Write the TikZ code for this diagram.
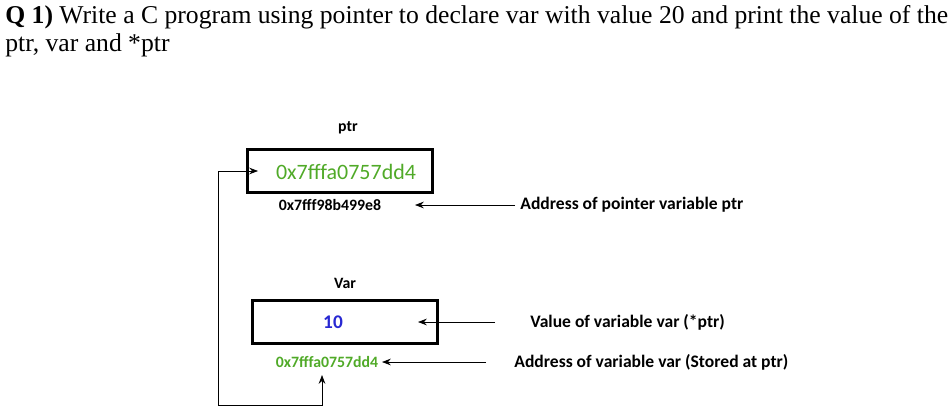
\documentclass[tikz,border=0pt]{standalone}
\usepackage{fontspec}
\setmainfont{Liberation Serif}
\newfontfamily\diagfont{Carlito}
\usetikzlibrary{positioning,arrows.meta}
\definecolor{addrgreen}{RGB}{80,170,40}
\definecolor{valblue}{RGB}{40,40,210}
\tikzset{
  membox/.style={draw, line width=2pt, minimum width=3.7cm, minimum height=0.86cm},
  lbl/.style={font=\diagfont\bfseries\fontsize{9}{10}\selectfont, inner sep=1pt},
  note/.style={font=\diagfont\bfseries\fontsize{10}{11}\selectfont, anchor=west, inner sep=0pt},
  ptrarrow/.style={-{Stealth[length=5pt]}, thin},
}
\begin{document}
\begin{tikzpicture}[x=0.02cm,y=-0.02cm]
  \useasboundingbox (0,0) rectangle (952,412);
  % question
  \node[anchor=north west, align=left, inner sep=0pt, font=\fontsize{14.6}{16}\selectfont] (q) at (5,5)
    {\textbf{Q 1)} Write a C program using pointer to declare var with value 20 and print the value of the\\ptr, var and *ptr};

  % pointer cell
  \node[lbl] (ptrname) at (348,128) {ptr};
  \node[membox] (ptrbox) at (340,171) {};
  \node[font=\diagfont\fontsize{12.5}{14}\selectfont, text=addrgreen] (ptrval) at (346,172) {0x7fffa0757dd4};
  \node[lbl] (ptraddr) at (330,205) {0x7fff98b499e8};

  % var cell
  \node[lbl] (varname) at (345,283) {Var};
  \node[membox] (varbox) at (345,322) {};
  \node[font=\diagfont\bfseries\fontsize{11}{13}\selectfont, text=valblue] (varval) at (333,322) {10};
  \node[lbl, text=addrgreen] (varaddr) at (327,362) {0x7fffa0757dd4};

  % notes
  \node[note] (n1) at (520,205) {Address of pointer variable ptr};
  \node[note] (n2) at (530,322) {Value of variable var (*ptr)};
  \node[note] (n3) at (514,362) {Address of variable var (Stored at ptr)};

  \coordinate (t1) at (415,205);
  \coordinate (t2) at (418,322);
  \coordinate (t3) at (382,362);
  \draw[ptrarrow] (n1.west) ++(-5,0) -- (t1);
  \draw[ptrarrow] (n2.west) ++(-35,0) -- (t2);
  \draw[ptrarrow] (n3.west) ++(-28,0) -- (t3);

  % loop from var address back into ptr
  \coordinate (into) at (258,171);
  \coordinate (up) at (322,375);
  \draw[{Stealth[length=5pt]}-{Stealth[length=5pt]}, thin] (into) -- (218,171) -- (218,405) -- (322,405) -- (up);
\end{tikzpicture}
\end{document}
